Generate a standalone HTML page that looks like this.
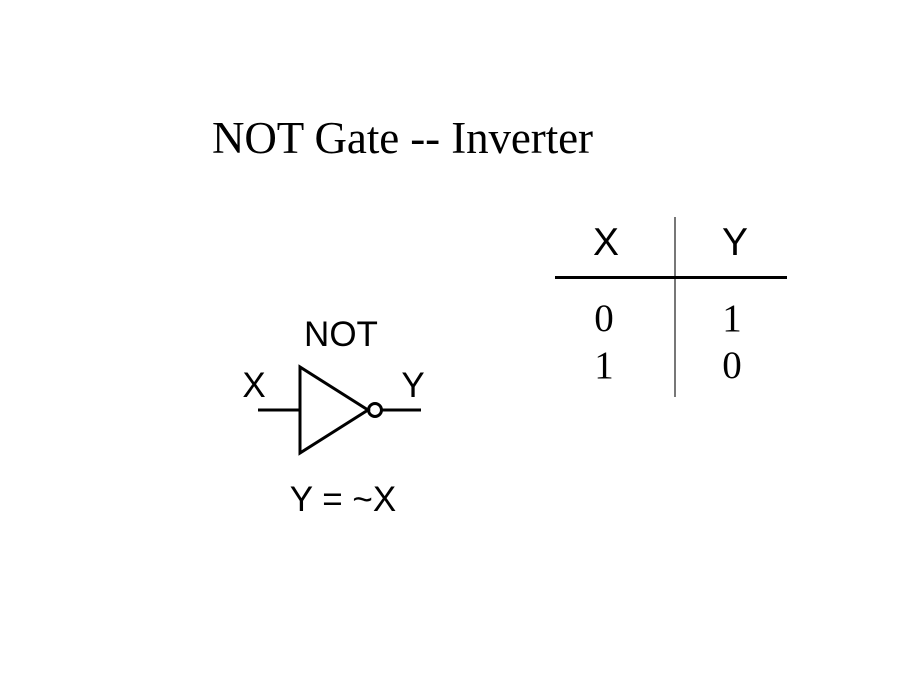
<!DOCTYPE html>
<html><head><style>body{margin:0;background:#fff}svg{display:block}</style></head>
<body>
<svg width="900" height="675" xmlns="http://www.w3.org/2000/svg">
<rect width="900" height="675" fill="#fff"/>
<text x="212" y="153" font-family="Liberation Serif, serif" font-size="45" textLength="381" fill="#000">NOT Gate -- Inverter</text>
<line x1="675" y1="217" x2="675" y2="397" stroke="#777" stroke-width="2"/>
<line x1="555" y1="277.5" x2="787" y2="277.5" stroke="#000" stroke-width="3"/>
<g font-family="Liberation Sans, sans-serif" font-size="39" text-anchor="middle" fill="#000">
<text x="606" y="255">X</text><text x="735" y="255">Y</text></g>
<g font-family="Liberation Serif, serif" font-size="39" text-anchor="middle" fill="#000">
<text x="604" y="331">0</text><text x="732" y="331">1</text>
<text x="604" y="378">1</text><text x="732" y="378">0</text></g>
<g stroke="#000" stroke-width="3" fill="none">
<line x1="258" y1="410" x2="300" y2="410"/>
<polygon points="300,367 300,453 368,410" stroke-linejoin="miter"/>
<circle cx="375" cy="410" r="6.5"/>
<line x1="381.5" y1="410" x2="421" y2="410"/>
</g>
<g font-family="Liberation Sans, sans-serif" font-size="35" text-anchor="middle" fill="#000">
<text x="341" y="346">NOT</text>
<text x="254" y="397">X</text>
<text x="413" y="397">Y</text>
<text x="343" y="511">Y = ~X</text></g>
</svg>
</body></html>
